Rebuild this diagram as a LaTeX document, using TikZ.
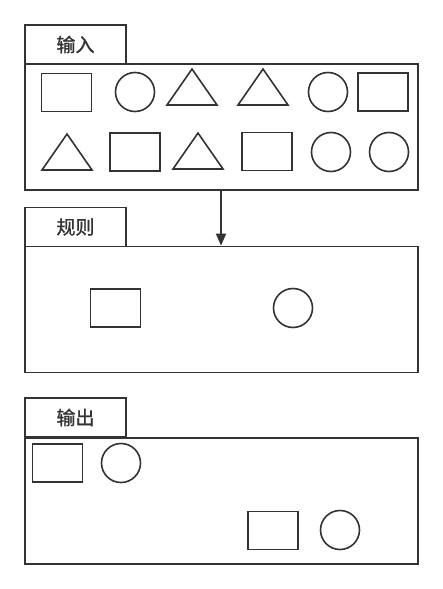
\documentclass[tikz,border=0pt]{standalone}
\usepackage{fontspec}
\newfontfamily\cjk[FakeBold=1.2]{Noto Sans CJK SC}
\usetikzlibrary{arrows.meta}
\begin{document}
\begin{tikzpicture}[x=1pt,y=-1pt,
  line width=1.8pt,draw=black!80,
  tab/.style={draw=black!80,rectangle,minimum width=101pt,minimum height=39pt,inner sep=0pt,font=\cjk\fontsize{19}{22}\selectfont,text=black!80},
  panel/.style={draw=black!80,rectangle,minimum width=393pt,minimum height=126pt,inner sep=0pt},
  sq/.style={draw=black!80,rectangle,minimum width=50pt,minimum height=38pt,inner sep=0pt,line width=1.6pt},
  rnd/.style={draw=black!80,circle,minimum size=39pt,inner sep=0pt,line width=1.6pt}]
\useasboundingbox (0,0) rectangle (443,589);
\def\tw{25};
\def\th{18};
\newcommand\tri[2]{\draw[line width=1.6pt,line join=miter] (#1-\tw,#2+\th) -- (#1,#2-\th) -- (#1+\tw,#2+\th) -- cycle;}

% input
\node[tab] (intab) at (75.5,44.5) {输入};
\node[panel] (inbox) at (221.5,127) {};
\node[sq] (in1) at (66.5,92.5) {};
\node[rnd] (in2) at (135,92) {};
\tri{192}{87}
\tri{263}{87}
\node[rnd] (in5) at (328,92) {};
\node[sq] (in6) at (383,92) {};
\tri{67}{152}
\node[sq] (in8) at (135,152) {};
\tri{198}{151}
\node[sq] (in10) at (267,151.5) {};
\node[rnd] (in11) at (331,152) {};
\node[rnd] (in12) at (389,152) {};

% rules
\node[tab] (ruletab) at (75.5,227) {规则};
\node[panel] (rulebox) at (221.5,309.5) {};
\node[sq] (rule1) at (115.5,308) {};
\node[rnd] (rule2) at (293,308) {};

% output
\node[tab] (outtab) at (75.5,417.5) {输出};
\node[panel] (outbox) at (221.5,501) {};
\node[sq] (out1) at (57.5,463) {};
\node[rnd] (out2) at (121,463) {};
\node[sq] (out3) at (273,530.5) {};
\node[rnd] (out4) at (340,530) {};

\coordinate (ax) at (221,0);
\draw[-{Triangle[length=12pt,width=10pt]}] (inbox.south -| ax) -- (rulebox.north -| ax);
\end{tikzpicture}
\end{document}
